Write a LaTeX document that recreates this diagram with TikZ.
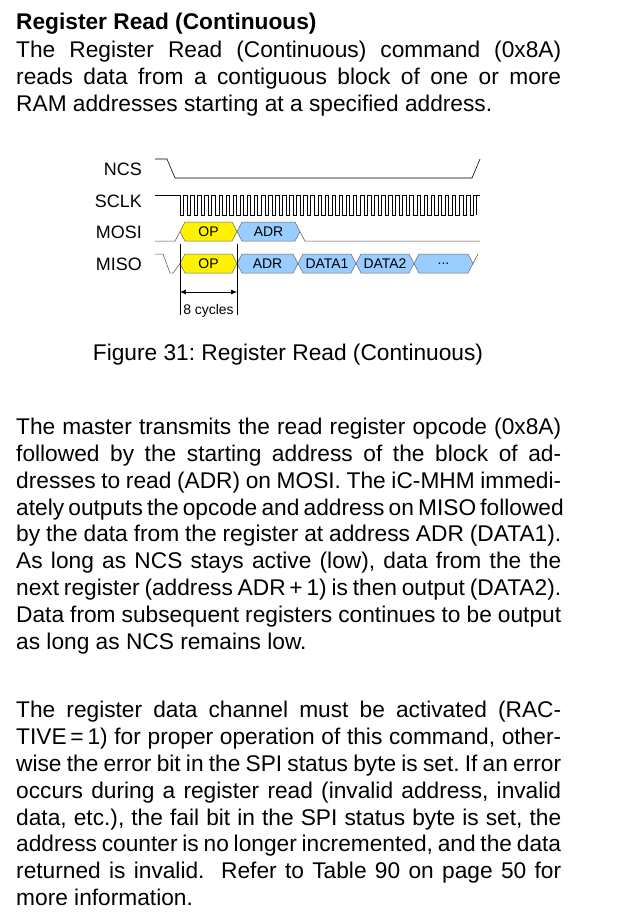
\documentclass[tikz,border=0pt]{standalone}
\usepackage{fontspec}
\setmainfont{Liberation Sans}
\usetikzlibrary{arrows.meta}
\frenchspacing
\definecolor{lblue}{RGB}{153,204,255}
\newcommand{\jl}[1]{\makebox[545bp][s]{#1}}
\tikzset{
  txt/.style={anchor=base west, inner sep=0pt, font=\fontsize{22.8}{27}\selectfont},
  sig/.style={anchor=east, inner sep=0pt, font=\fontsize{18}{21}\selectfont},
  wave/.style={line width=0.6pt, black},
  yel/.style={draw=black!60, line width=0.5pt, fill=yellow},
  blu/.style={draw=black!60, line width=0.5pt, fill=lblue},
  lbl/.style={inner sep=0pt, font=\fontsize{14}{16}\selectfont},
}
\newcommand{\hexbox}[5]{% style, x1, x2, ytop, ybot
  \path[#1] (#2,{(#4+#5)/2}) -- (#2+5,#4) -- (#3-5,#4) -- (#3,{(#4+#5)/2}) -- (#3-5,#5) -- (#2+5,#5) -- cycle;}
\begin{document}
\begin{tikzpicture}[x=1bp,y=-1bp]
\useasboundingbox (0,0) rectangle (636,914);
% text
\node[txt,font=\fontsize{22.8}{27}\selectfont\bfseries] (t0) at (16,29) {Register Read (Continuous)};
\node[txt] (p1a) at (16,57) {\jl{The Register Read (Continuous) command (0x8A)}};
\node[txt] (p1b) at (16,84) {\jl{reads data from a contiguous block of one or more}};
\node[txt] (p1c) at (16,111) {RAM addresses starting at a specified address.};
% signals
\node[sig] (ncs) at (142,169) {NCS};
\node[sig] (sclk) at (142,201) {SCLK};
\node[sig] (mosi) at (142,232) {MOSI};
\node[sig] (miso) at (142,264) {MISO};
\draw[wave] (155,159) -- (167,159) -- (175,178) -- (472,178) -- (480,159);
\draw[wave] (155,195) -- (180,195) -- (180,215)
  \foreach \i in {0,...,41}{ -- ({180+\i*7.07+3.5},215) -- ({180+\i*7.07+3.5},195) -- ({180+(\i+1)*7.07},195) -- ({180+(\i+1)*7.07},215)} ;
\path[fill=white] (476,193) rectangle (490,217);
\draw[wave] (476,215) -- (476,195) -- (480,195);
% MOSI
\draw[line width=0.5pt,black!70] (155,241) -- (175,241) -- (180,232);
\hexbox{yel}{180}{237}{222}{241}
\hexbox{blu}{237}{300}{222}{241}
\draw[line width=0.5pt,black!70] (300,232) -- (305,241) -- (480,241);
\node[lbl] (op1) at (208.5,232) {OP};
\node[lbl] (adr1) at (268.5,232) {ADR};
% MISO
\draw[line width=0.5pt,black!70] (155,254) -- (163,254) -- (170,273) -- (173,273) -- (180,263.5);
\hexbox{yel}{180}{237}{254}{273}
\hexbox{blu}{237}{298}{254}{273}
\hexbox{blu}{298}{356}{254}{273}
\hexbox{blu}{356}{414}{254}{273}
\hexbox{blu}{414}{473}{254}{273}
\draw[line width=0.5pt,black!70] (473,263.5) -- (478,254);
\node[lbl] (op2) at (208.5,264) {OP};
\node[lbl] (adr2) at (267.5,264) {ADR};
\node[lbl] (d1) at (327,264) {DATA1};
\node[lbl] (d2) at (385,264) {DATA2};
\node[lbl] (dd) at (443.5,264) {...};
% 8 cycles
\coordinate (c1) at (180,292);
\coordinate (c2) at (237,292);
\draw[line width=0.6pt] (180,244) -- (180,315);
\draw[line width=0.6pt] (237,244) -- (237,315);
\draw[line width=0.6pt,{Latex[length=6pt,width=5pt]}-{Latex[length=6pt,width=5pt]}] (c1) -- (c2);
\node[lbl,anchor=base] (cyc) at (208.5,314) {8 cycles};
% caption
\node[inner sep=0pt,anchor=base,font=\fontsize{22.8}{27}\selectfont] (cap) at (288,360) {Figure 31: Register Read (Continuous)};
% para 2
\node[txt] (p2a) at (16,434) {\jl{The master transmits the read register opcode (0x8A)}};
\node[txt] (p2b) at (16,461) {\jl{followed by the starting address of the block of ad-}};
\node[txt] (p2c) at (16,488) {\jl{dresses to read (ADR) on MOSI. The iC-MHM immedi-}};
\node[txt] (p2d) at (16,515) {\jl{ately outputs the opcode and address on MISO followed}};
\node[txt] (p2e) at (16,541) {\jl{by the data from the register at address ADR (DATA1).}};
\node[txt] (p2f) at (16,568) {\jl{As long as NCS stays active (low), data from the the}};
\node[txt] (p2g) at (16,595) {\jl{next register (address ADR\,+\,1) is then output (DATA2).}};
\node[txt] (p2h) at (16,622) {\jl{Data from subsequent registers continues to be output}};
\node[txt] (p2i) at (16,649) {as long as NCS remains low.};
% para 3
\node[txt] (p3a) at (16,717) {\jl{The register data channel must be activated (RAC-}};
\node[txt] (p3b) at (16,744) {\jl{TIVE\,=\,1) for proper operation of this command, other-}};
\node[txt] (p3c) at (16,771) {\jl{wise the error bit in the SPI status byte is set. If an error}};
\node[txt] (p3d) at (16,798) {\jl{occurs during a register read (invalid address, invalid}};
\node[txt] (p3e) at (16,825) {\jl{data, etc.), the fail bit in the SPI status byte is set, the}};
\node[txt] (p3f) at (16,851) {\jl{address counter is no longer incremented, and the data}};
\node[txt] (p3g) at (16,878) {\jl{returned is invalid.\ \ Refer to Table 90 on page 50 for}};
\node[txt] (p3h) at (16,905) {more information.};
\end{tikzpicture}
\end{document}
